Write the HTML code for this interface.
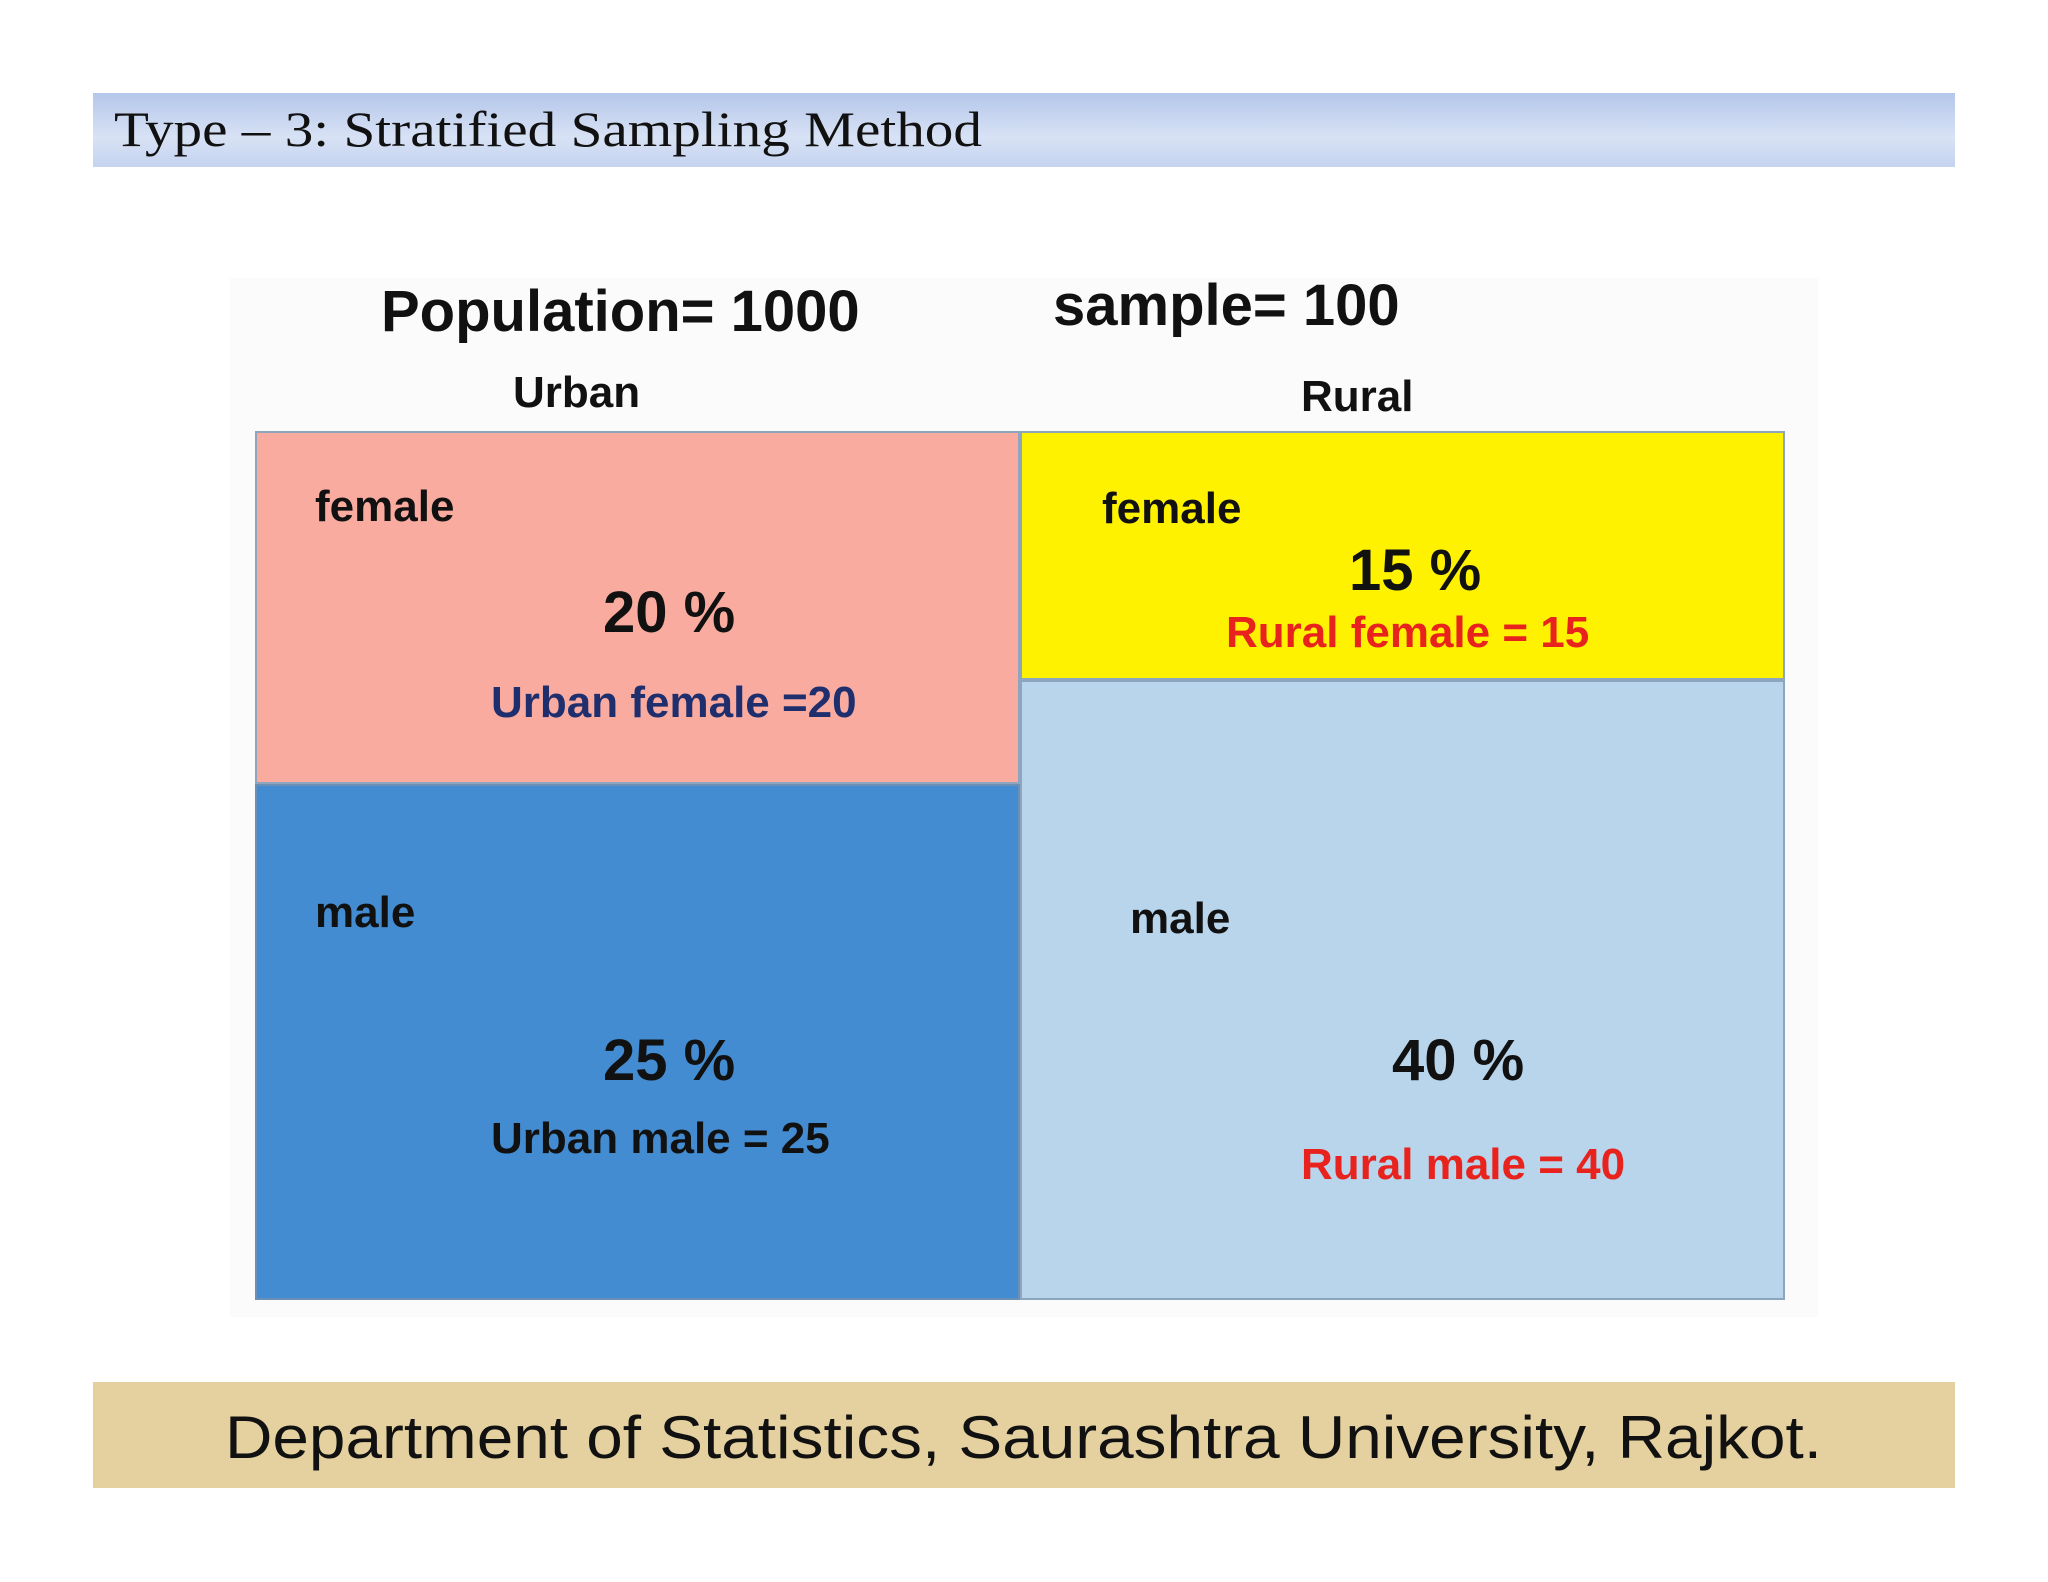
<!DOCTYPE html>
<html><head><meta charset="utf-8"><style>
body{margin:0;width:2048px;height:1582px;background:#fff;position:relative;overflow:hidden;font-family:"Liberation Sans",sans-serif}
.a{position:absolute;white-space:nowrap}
.b{font-weight:bold;color:#111}
</style></head><body>
<div class="a" style="left:93px;top:93px;width:1862px;height:74px;background:linear-gradient(180deg,#b4c6ea,#d8e2f5 60%,#c4d3ef)"></div>
<div class="a" style="left:230px;top:278px;width:1588px;height:1039px;background:#fbfbfb"></div>
<div class="a b" style="left:381px;top:278px;font-size:58px">Population= 1000</div>
<div class="a b" style="left:1053px;top:272px;font-size:58px">sample= 100</div>
<div class="a b" style="left:513px;top:368px;font-size:44px">Urban</div>
<div class="a b" style="left:1301px;top:372px;font-size:44px">Rural</div>
<div class="a" style="left:255px;top:431px;width:765px;height:353px;background:#f9aba0;border:2px solid #8ea5c0;box-sizing:border-box"></div>
<div class="a" style="left:255px;top:784px;width:765px;height:516px;background:#438cd1;border:2px solid #6b8fb5;box-sizing:border-box"></div>
<div class="a" style="left:1020px;top:431px;width:765px;height:249px;background:#fff200;border:2px solid #8ea5c0;box-sizing:border-box"></div>
<div class="a" style="left:1020px;top:680px;width:765px;height:620px;background:#b8d5ec;border:2px solid #8ea5c0;box-sizing:border-box"></div>
<div class="a b" style="left:315px;top:482px;font-size:44px">female</div>
<div class="a b" style="left:603px;top:579px;font-size:58px">20 %</div>
<div class="a b" style="left:491px;top:678px;font-size:44px;color:#1f2f6e">Urban female =20</div>
<div class="a b" style="left:315px;top:888px;font-size:44px">male</div>
<div class="a b" style="left:603px;top:1027px;font-size:58px">25 %</div>
<div class="a b" style="left:491px;top:1114px;font-size:44px">Urban male = 25</div>
<div class="a b" style="left:1102px;top:484px;font-size:44px">female</div>
<div class="a b" style="left:1349px;top:537px;font-size:58px">15 %</div>
<div class="a b" style="left:1226px;top:608px;font-size:44px;color:#e8231e">Rural female = 15</div>
<div class="a b" style="left:1130px;top:894px;font-size:44px">male</div>
<div class="a b" style="left:1392px;top:1027px;font-size:58px">40 %</div>
<div class="a b" style="left:1301px;top:1140px;font-size:44px;color:#e8231e">Rural male = 40</div>
<div class="a" style="left:93px;top:1382px;width:1862px;height:106px;background:#e4d19f"></div>
<svg class="a" style="left:0;top:0" width="2048" height="1582">
<text x="114" y="146" font-family="Liberation Serif, serif" font-size="50" fill="#111" textLength="868" lengthAdjust="spacingAndGlyphs">Type – 3: Stratified Sampling Method</text>
<text x="225" y="1458" font-family="Liberation Sans, sans-serif" font-size="60" fill="#111" textLength="1597" lengthAdjust="spacingAndGlyphs">Department of Statistics, Saurashtra University, Rajkot.</text></svg>
</body></html>
